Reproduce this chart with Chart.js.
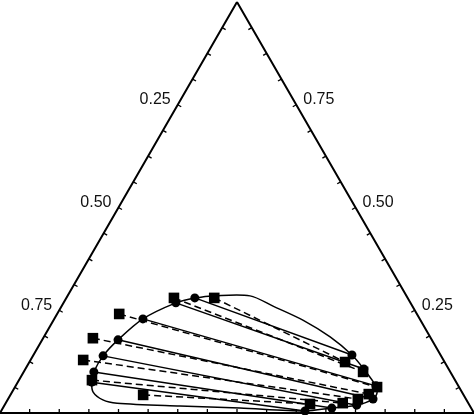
<!DOCTYPE html>
<html>
<head>
<meta charset="utf-8">
<script src="https://cdn.jsdelivr.net/npm/chart.js@4.4.0/dist/chart.umd.min.js"></script>
<style>
  html, body { margin: 0; padding: 0; background: #fff; }
  #wrap { width: 474px; height: 415px; position: relative; }
</style>
</head>
<body>
<div id="wrap"><canvas id="chart"></canvas></div>
<script>
// compositions as [top fraction, right fraction]; left fraction = 1 - top - right
const expLeftPhase = [[0.280, 0.271], [0.268, 0.237], [0.229, 0.187], [0.178, 0.160], [0.139, 0.148], [0.100, 0.148], [0.075, 0.156]];
const expRightPhase = [[0.141, 0.672], [0.107, 0.714], [0.066, 0.760], [0.034, 0.770], [0.019, 0.743], [0.012, 0.694], [0.005, 0.641]];
const calcLeftPhase = [[0.280, 0.312], [0.280, 0.227], [0.241, 0.131], [0.182, 0.105], [0.129, 0.111], [0.080, 0.154], [0.044, 0.280]];
const calcRightPhase = [[0.124, 0.666], [0.100, 0.716], [0.063, 0.764], [0.046, 0.755], [0.034, 0.738], [0.024, 0.711], [0.022, 0.643]];
const binodal = [
  [0.280, 0.271], [0.285, 0.309], [0.285, 0.385], [0.260, 0.446], [0.226, 0.526], [0.185, 0.604],
  [0.141, 0.672], [0.107, 0.714], [0.066, 0.760], [0.049, 0.771], [0.034, 0.770], [0.019, 0.743],
  [0.012, 0.694], [0.005, 0.641], [0.012, 0.500], [0.017, 0.371], [0.024, 0.235], [0.032, 0.201],
  [0.051, 0.171], [0.075, 0.156], [0.100, 0.148], [0.139, 0.148], [0.178, 0.160], [0.229, 0.187],
  [0.268, 0.237], [0.280, 0.271]
];
const triangle = [[1, 0], [0, 0], [0, 1], [1, 0]];
const edgeLabels = [0.25, 0.50, 0.75];
const tickDivisions = 16;

// ternary -> plane (top vertex at x=0.5)
const toXY = p => ({ x: p[1] + p[0] / 2, y: p[0] });

const datasets = [];
datasets.push({
  data: triangle.map(toXY), showLine: true, borderColor: '#000', borderWidth: 2,
  pointRadius: 0, tension: 0
});
datasets.push({
  data: binodal.map(toXY), showLine: true, borderColor: '#000', borderWidth: 1.5,
  pointRadius: 0, tension: 0.3
});
calcLeftPhase.forEach((p, i) => {
  datasets.push({
    data: [toXY(p), toXY(calcRightPhase[i])], showLine: true,
    borderColor: '#000', borderWidth: 1.5, borderDash: [7, 4],
    pointStyle: 'rect', pointRadius: 7.5, backgroundColor: '#000', pointBorderWidth: 0
  });
});
expLeftPhase.forEach((p, i) => {
  datasets.push({
    data: [toXY(p), toXY(expRightPhase[i])], showLine: true,
    borderColor: '#000', borderWidth: 1.5,
    pointStyle: 'circle', pointRadius: 4.5, backgroundColor: '#000', pointBorderWidth: 0
  });
});

const ternaryAxes = {
  id: 'ternaryAxes',
  afterDatasetsDraw(chart) {
    const { ctx, scales: { x, y } } = chart;
    const px = p => { const q = toXY(p); return { x: x.getPixelForValue(q.x), y: y.getPixelForValue(q.y) }; };
    const T = px([1, 0]), L = px([0, 0]), R = px([0, 1]);
    const cx = (T.x + L.x + R.x) / 3, cy = (T.y + L.y + R.y) / 3;
    ctx.save();
    ctx.strokeStyle = '#000';
    ctx.lineWidth = 1.3;
    [[T, L], [T, R], [L, R]].forEach(([a, b]) => {
      for (let i = 1; i < tickDivisions; i++) {
        const f = i / tickDivisions;
        const mx = a.x + (b.x - a.x) * f, my = a.y + (b.y - a.y) * f;
        let nx = -(b.y - a.y), ny = b.x - a.x;
        const len = Math.hypot(nx, ny);
        nx /= len; ny /= len;
        if ((cx - mx) * nx + (cy - my) * ny < 0) { nx = -nx; ny = -ny; }
        ctx.beginPath();
        ctx.moveTo(mx, my);
        ctx.lineTo(mx + nx * 4, my + ny * 4);
        ctx.stroke();
      }
    });
    ctx.fillStyle = '#111';
    ctx.font = '16px "Liberation Sans", Arial, sans-serif';
    ctx.textBaseline = 'middle';
    edgeLabels.forEach(v => {
      const pl = px([1 - v, 0]);
      ctx.textAlign = 'right';
      ctx.fillText(v.toFixed(2), pl.x - 7, pl.y - 5);
      const pr = px([v, 1 - v]);
      ctx.textAlign = 'left';
      ctx.fillText(v.toFixed(2), pr.x + 7, pr.y - 5);
    });
    ctx.restore();
  }
};

new Chart(document.getElementById('chart'), {
  type: 'scatter',
  data: { datasets },
  options: {
    responsive: true,
    maintainAspectRatio: false,
    animation: false,
    layout: { padding: 0, autoPadding: false },
    plugins: { legend: { display: false }, tooltip: { enabled: false } },
    scales: {
      x: { type: 'linear', min: 0, max: 1, display: false },
      y: { type: 'linear', min: -2 / 411, max: 413 / 411, display: false }
    }
  },
  plugins: [ternaryAxes]
});
</script>
</body>
</html>
